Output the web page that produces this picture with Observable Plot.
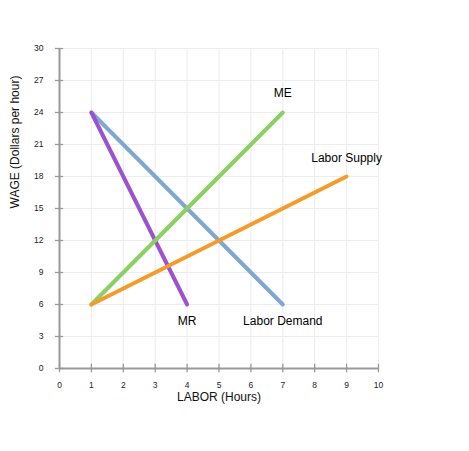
<!DOCTYPE html>
<html><head><meta charset="utf-8">
<script src="https://cdn.jsdelivr.net/npm/d3@7"></script>
<script src="https://cdn.jsdelivr.net/npm/@observablehq/plot@0.6"></script>
<style>body{margin:0;background:#fff}</style>
</head><body><div id="chart"></div>
<script>
const xTicks = [0,1,2,3,4,5,6,7,8,9,10];
const yTicks = [0,3,6,9,12,15,18,21,24,27,30];
const laborDemand = [{x:1,y:24},{x:7,y:6}];
const mr = [{x:1,y:24},{x:4,y:6}];
const me = [{x:1,y:6},{x:7,y:24}];
const laborSupply = [{x:1,y:6},{x:9,y:18}];
const labels = [
  {x:7, y:25.8, text:"ME"},
  {x:9, y:19.7, text:"Labor Supply"},
  {x:4, y:4.4, text:"MR"},
  {x:7, y:4.4, text:"Labor Demand"}
];
const font = "Liberation Sans, Arial, sans-serif";
const chart = Plot.plot({
  width: 469, height: 451,
  marginLeft: 59, marginRight: 91, marginTop: 48, marginBottom: 83,
  style: {fontFamily: font, fontSize: "8.5px", color: "#222", background: "#fff"},
  x: {domain: [0,10]},
  y: {domain: [0,30]},
  marks: [
    Plot.gridX(xTicks, {stroke: "#ececec", strokeOpacity: 1, strokeWidth: 1}),
    Plot.gridY(yTicks, {stroke: "#ececec", strokeOpacity: 1, strokeWidth: 1}),
    Plot.ruleX([0], {stroke: "#999", strokeWidth: 2}),
    Plot.ruleY([0], {stroke: "#999", strokeWidth: 2}),
    Plot.ruleY(yTicks, {y: d => d, x1: () => -0.13, x2: () => 0.13, stroke: "#999", strokeWidth: 1.3}),
    Plot.ruleX(xTicks, {x: d => d, y1: () => -0.4, y2: () => 0.4, stroke: "#999", strokeWidth: 1.3}),
    Plot.axisY(yTicks, {tickSize: 0, tickPadding: 16, label: null, fontSize: 8.5}),
    Plot.axisX(xTicks, {tickSize: 0, tickPadding: 13, label: null, fontSize: 8.5}),
    Plot.text(["WAGE (Dollars per hour)"], {frameAnchor: "left", dx: -44, rotate: -90, fontSize: 12, fill: "#111"}),
    Plot.text(["LABOR (Hours)"], {frameAnchor: "bottom", dy: 32, fontSize: 12, fill: "#111"}),
    Plot.line(laborDemand, {x: "x", y: "y", stroke: "#7ea7d1", strokeWidth: 4}),
    Plot.line(mr, {x: "x", y: "y", stroke: "#9c52d0", strokeWidth: 4}),
    Plot.line(me, {x: "x", y: "y", stroke: "#8ad063", strokeWidth: 4}),
    Plot.line(laborSupply, {x: "x", y: "y", stroke: "#f39c2d", strokeWidth: 4}),
    Plot.text(labels, {x: "x", y: "y", text: "text", fontSize: 12, fill: "#000"})
  ]
});
document.getElementById("chart").append(chart);
</script></body></html>
